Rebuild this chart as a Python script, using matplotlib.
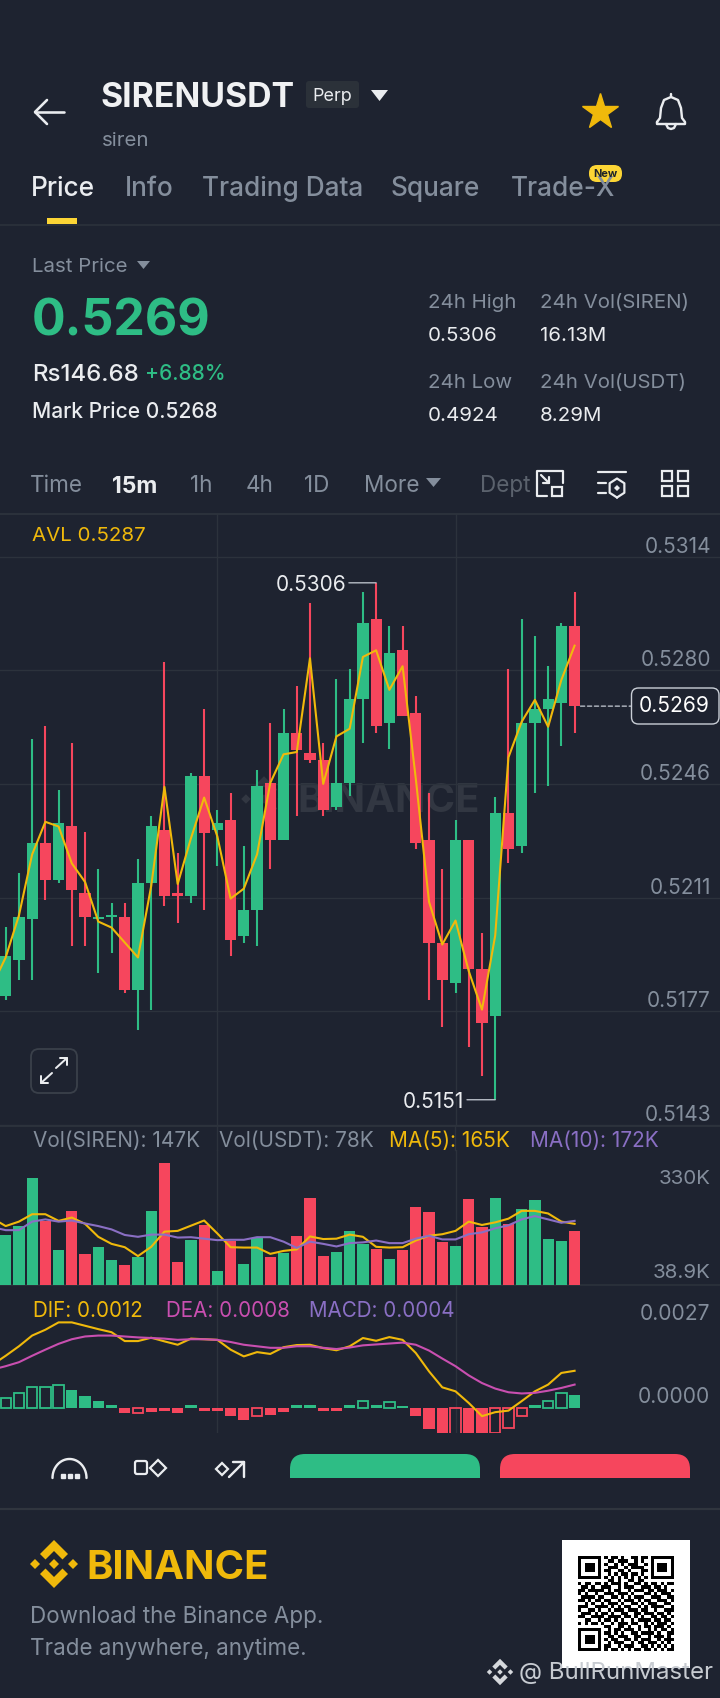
import numpy as np
import matplotlib
matplotlib.use("Agg")
import matplotlib.pyplot as plt
from matplotlib.patches import FancyBboxPatch, Polygon, Rectangle

# candles, oldest first
opens = [.51818, .51927, .52049, .52279, .52168, .52329, .52128, .52049, .52057, .52057, .51837,
         .52159, .52318, .52128, .52118, .52479, .52318, .52349, .51998, .52077, .52459, .52288,
         .52609, .52549, .52529, .52388, .52459, .52710, .52951, .52640, .52860, .52670, .52288,
         .51977, .51857, .52288, .51898, .51757, .52368, .52268, .52640, .52680, .52699, .52932]
closes = [.51937, .52057, .52279, .52168, .52337, .52137, .52057, .52057, .52062, .51837, .52159,
          .52329, .52118, .52118, .52479, .52309, .52338, .51988, .52077, .52449, .52288, .52609,
          .52559, .52529, .52379, .52459, .52710, .52941, .52630, .52851, .52660, .52279, .51977,
          .51867, .52288, .51898, .51737, .52368, .52259, .52640, .52680, .52710, .52932, .52690]
highs = [.52027, .52188, .52590, .52630, .52439, .52580, .52310, .52199, .52099, .52099, .52229,
         .52359, .52822, .52249, .52490, .52680, .52379, .52429, .52268, .52499, .52640, .52680,
         .52751, .53001, .52580, .52771, .52801, .53032, .53061, .52932, .52932, .52721, .52429,
         .52199, .52349, .52288, .52008, .52418, .52803, .52951, .52900, .52810, .52941, .53032]
lows = [.51807, .51867, .51867, .52107, .52159, .51967, .51967, .51887, .51946, .51827, .51716,
        .51776, .52089, .52037, .52098, .52077, .52209, .51937, .51977, .51967, .52199, .52288,
        .52359, .52518, .52359, .52379, .52419, .52579, .52609, .52560, .52660, .52259, .51806,
        .51726, .51827, .51665, .51576, .51506, .52218, .52249, .52429, .52449, .52570, .52609]
# lines start one candle before the left edge
avl = [.51851, .51934, .52060, .52244, .52342, .52328, .52217, .52161, .52042, .52024, .51979,
       .51934, .52149, .52447, .52155, .52292, .52415, .52298, .52111, .52141, .52244, .52459,
       .52545, .52552, .52834, .52456, .52599, .52622, .52838, .52858, .52739, .52810, .52471,
       .52101, .51973, .52045, .51893, .51777, .52000, .52536, .52643, .52709, .52628, .52769, .52872]
price_ticks = [.53140, .52798, .52456, .52114, .51772, .51430]
price_labels = ["0.5314", "0.5280", "0.5246", "0.5211", "0.5177", "0.5143"]

volume = [135, 159, 290, 173, 95, 199, 84, 102, 68, 53, 76, 199, 330, 63, 121, 162, 38.9, 120, 56,
          126, 76, 87, 131, 236, 79, 88, 146, 111, 96, 69, 94, 211, 197, 117, 104, 233, 157, 236,
          165, 204, 229, 123, 119, 147]
ma5 = [180, 159, 171, 191, 191, 173, 182, 165, 130, 111, 102, 78, 103, 144, 146, 160, 174, 139, 102,
       101, 101, 84, 92, 96, 131, 124, 125, 136, 130, 103, 101, 102, 120, 133, 137, 146, 171, 162,
       169, 179, 200, 200, 193, 171, 165]
ma10 = [156, 148, 148, 171, 177, 171, 174, 166, 159, 150, 135, 130, 136, 136, 128, 129, 125, 121,
        122, 122, 129, 129, 117, 100, 117, 111, 104, 113, 115, 120, 113, 113, 125, 133, 123, 123,
        137, 142, 153, 161, 177, 186, 177, 168, 173]

dif = [.00142, .00171, .00202, .00237, .00256, .00280, .00280, .00269, .00258, .00248, .00219, .00219,
       .00230, .00218, .00207, .00227, .00225, .00223, .00191, .00169, .00183, .00177, .00199, .00206,
       .00207, .00196, .00189, .00202, .00229, .00220, .00232, .00223, .00180, .00120, .00068, .00055,
       .00017, -.00026, -.00013, -.00008, .00023, .00055, .00077, .00115, .00122]
dea = [.00126, .00137, .00150, .00171, .00191, .00210, .00225, .00234, .00237, .00237, .00234, .00231,
       .00229, .00227, .00223, .00225, .00225, .00223, .00216, .00207, .00202, .00197, .00197, .00202,
       .00202, .00197, .00193, .00198, .00205, .00208, .00211, .00214, .00207, .00188, .00162, .00137,
       .00107, .00082, .00064, .00052, .00048, .00050, .00057, .00066, .00077]
macd = [.00034, .00050, .00070, .00070, .00076, .00060, .00040, .00023, .00010, -.00015, -.00015,
        -.00012, -.00010, -.00016, .00009, -.00009, -.00009, -.00027, -.00038, -.00024, -.00022, -.00011,
        .00009, .00009, -.00008, -.00009, .00009, .00025, .00012, .00020, .00007, -.00026, -.00068,
        -.00085, -.00090, -.00085, -.00085, -.00080, -.00064, -.00025, .00009, .00023, .00049, .00043]
macd_hollow = [1, 1, 1, 1, 1, 0, 0, 0, 0, 0, 1, 0, 0, 0, 0, 0, 0, 0, 0, 1, 0, 0, 0, 0, 0, 0, 0, 1, 0, 1,
               0, 0, 0, 0, 1, 0, 0, 1, 1, 1, 0, 1, 1, 0]

qr_rows = [
    "11111110101101001101101111111",
    "10000010011011100101001000001",
    "10111010100101011100101011101",
    "10111010011100101111001011101",
    "10111010110011010001101011101",
    "10000010010101101101001000001",
    "11111110101010101010101111111",
    "00000000011010011011000000000",
    "10110110101110100110101101011",
    "01101001110010111001110110100",
    "11011111010110010111011011101",
    "10100100111011101000110101110",
    "01111011001101010111001110011",
    "11010110110010111010110011101",
    "00101001011101001101011100110",
    "11100111101010110010101111001",
    "10011010010111011101100100111",
    "01110101101001100110111011010",
    "11001111011110110101001101101",
    "00110010110101001011110110110",
    "10101101001011101100101011101",
    "00000000110011010010110111010",
    "11111110010110111010010101101",
    "10000010110101001101111010011",
    "10111010011011100110010111010",
    "10111010101100110101110010111",
    "10111010010111001011011101010",
    "10000010110010111001101010101",
    "11111110101101010110110101011",
]

BG = "#1e2330"
GREEN = "#2ebd85"
RED = "#f6465d"
YELLOW = "#f0b90b"
PURPLE = "#8a6fc4"
PINK = "#c94fb0"
GRAY = "#848e9c"
GRID = "#2c323c"
WHITE = "#eaecef"

plt.rcParams["font.family"] = ["Inter", "DejaVu Sans"]
W, H = 720, 1698
fig = plt.figure(figsize=(W / 100, H / 100), dpi=100, facecolor=BG)


def panel(top, bottom, zorder):
    a = fig.add_axes([0, 1 - bottom / H, 1, (bottom - top) / H], zorder=zorder)
    a.patch.set_alpha(0)
    a.set_axis_off()
    a.set_xlim(-0.4286, 53.99)
    return a


def logo(a, cx, cy, s, color, zorder=1):
    top = [(0, -24), (14, -10), (8.5, -4.5), (0, -13), (-8.5, -4.5), (-14, -10)]
    for pts in (top, [(x, -y) for x, y in top]):
        a.add_patch(Polygon([(cx + x * s, cy + y * s) for x, y in pts], color=color, lw=0, zorder=zorder))
    for dx in (-19, 0, 19):
        pts = [(dx, -5), (dx + 5, 0), (dx, 5), (dx - 5, 0)]
        a.add_patch(Polygon([(cx + x * s, cy + y * s) for x, y in pts], color=color, lw=0, zorder=zorder))


def txt(a, x, y, s, px, color=WHITE, weight="normal", ha="left", **kw):
    # va=center sits a little high for this font, scale the nudge with the size
    return a.text(x, y + 0.11 * px, s, fontsize=px * 0.72, color=color, fontweight=weight, ha=ha, va="center", **kw)


def stroke(a, xs, ys, color=WHITE, lw=2.0, **kw):
    a.plot(xs, ys, color=color, lw=lw * 0.72, solid_capstyle="round", solid_joinstyle="round", **kw)


# pixel layer under the charts
bg = fig.add_axes([0, 0, 1, 1], zorder=0)
bg.set_xlim(0, W)
bg.set_ylim(H, 0)
bg.set_axis_off()
logo(bg, 264, 799, 0.95, "#323742")
txt(bg, 297, 797, "BINANCE", 40, "#323742", "bold")

# price panel
ax = panel(514, 1126, 2)
ax.set_ylim(.51427, .53268)
x = np.arange(len(closes))
line_x = np.arange(-1, len(closes))
o, c, h_, l_ = map(np.array, (opens, closes, highs, lows))
colors = [GREEN if b >= a else RED for a, b in zip(o, c)]
for p in price_ticks:
    ax.axhline(p, color=GRID, lw=1, zorder=1)
ax.axhline(.53268, color=GRID, lw=1.4, zorder=1, clip_on=False)
ax.axhline(.51427, color=GRID, lw=1.4, zorder=1, clip_on=False)
ax.vlines(x, l_, h_, colors=colors, lw=1.5, zorder=2)
ax.bar(x, np.abs(c - o), bottom=np.minimum(o, c), width=0.85, color=colors, zorder=3)
ax.plot(line_x, avl, color=YELLOW, lw=1.5, zorder=4, solid_joinstyle="round")
for p, lab in zip(price_ticks, price_labels):
    ax.annotate(lab, xy=(1, p), xycoords=ax.get_yaxis_transform(), xytext=(-9, 10),
                textcoords="offset pixels", ha="right", va="center", fontsize=15, color=GRAY)
hi_i = int(np.argmax(highs))
lo_i = int(np.argmin(lows))
ax.annotate("0.5306", xy=(hi_i, highs[hi_i]), xytext=(-30, -2), textcoords="offset pixels", ha="right",
            va="center", fontsize=15, color=WHITE, arrowprops=dict(arrowstyle="-", color="#b7bdc6", lw=1, shrinkA=0, shrinkB=0, relpos=(1, 0.6)))
ax.annotate("0.5151", xy=(lo_i, lows[lo_i]), xytext=(-31, -2), textcoords="offset pixels", ha="right",
            va="center", fontsize=15, color=WHITE, arrowprops=dict(arrowstyle="-", color="#b7bdc6", lw=1, shrinkA=0, shrinkB=0, relpos=(1, 0.6)))
ax.annotate("", xy=(52.1, closes[-1]), xytext=(43.45, closes[-1]),
            arrowprops=dict(arrowstyle="-", color="#b7bdc6", lw=1, ls=(0, (3, 2)), shrinkA=0, shrinkB=0))

# volume panel
vol_ax = panel(1150, 1285, 2)
vol_ax.set_ylim(0, 330 * (135 / 122.3))
vol_ax.bar(x, volume, width=0.85, color=colors, zorder=3)
vol_ax.plot(line_x, ma5, color=YELLOW, lw=1.5, zorder=4)
vol_ax.plot(line_x, ma10, color=PURPLE, lw=1.5, zorder=5)

# macd panel
macd_ax = panel(1285, 1433, 2)
macd_ax.set_ylim(-.00081, .00402)
for i, v in enumerate(macd):
    col = GREEN if v >= 0 else RED
    if macd_hollow[i]:
        macd_ax.bar(i, v, width=0.78, facecolor="none", edgecolor=col, lw=1.3, zorder=3)
    else:
        macd_ax.bar(i, v, width=0.85, color=col, zorder=3)
macd_ax.plot(line_x, dif, color=YELLOW, lw=1.5, zorder=4)
macd_ax.plot(line_x, dea, color=PINK, lw=1.5, zorder=5)

# vertical time grid runs through all three panels
for i in (16, 34):
    for a in (ax, vol_ax, macd_ax):
        a.axvline(i, color=GRID, lw=1, zorder=1)
    px = 5.67 + 13.23 * i
    bg.plot([px, px], [1126, 1150], color=GRID, lw=1)

# pixel layer over the charts
ui = fig.add_axes([0, 0, 1, 1], zorder=5)
ui.patch.set_alpha(0)
ui.set_xlim(0, W)
ui.set_ylim(H, 0)
ui.set_axis_off()

# header
stroke(ui, [35, 64], [112, 112], lw=2.6)
stroke(ui, [47, 35, 47], [100, 112, 124], lw=2.6)
txt(ui, 101, 94, "SIRENUSDT", 33.8, "#f0f1f3", "bold")
ui.add_patch(FancyBboxPatch((306, 81), 53, 27, boxstyle="round,pad=0,rounding_size=3", fc="#2b3139", ec="none"))
txt(ui, 332, 95, "Perp", 18, WHITE, ha="center")
ui.add_patch(Polygon([(371, 90), (388, 90), (379.5, 101)], color=WHITE, lw=0))
txt(ui, 102, 139, "siren", 20.5, GRAY)
ui.plot([600], [112], marker="*", ms=27, color=YELLOW, mec=YELLOW)
bell_x = np.array([655, 658, 659, 662, 669, 676, 679, 680, 683, 683, 655, 655]) + 2
bell_y = [122, 118, 108, 100, 97, 100, 108, 118, 122, 124, 124, 122]
stroke(ui, bell_x, bell_y, lw=2.4)
stroke(ui, [666, 668, 671, 674, 676], [124, 128, 129, 128, 124], lw=2.4)
stroke(ui, [671, 671], [94, 97], lw=2.4)

# tabs
for tx, label in zip([125, 202, 391, 511], ["Info", "Trading Data", "Square", "Trade-X"]):
    txt(ui, tx, 186, label, 26.2, GRAY, "medium")
txt(ui, 31, 186, "Price", 26.2, WHITE, "medium")
ui.add_patch(Rectangle((47, 218), 30, 6, color="#fcd535", lw=0))
bg.plot([0, W], [225, 225], color=GRID, lw=1.2)
ui.add_patch(FancyBboxPatch((589, 165), 33, 17, boxstyle="round,pad=0,rounding_size=8", fc="#fcd535", ec="none"))
txt(ui, 605.5, 173, "New", 11, "#1e2329", "bold", ha="center")

# last price block
txt(ui, 32, 265, "Last Price", 20.5, GRAY)
ui.add_patch(Polygon([(137, 261), (150, 261), (143.5, 269)], color=GRAY, lw=0))
txt(ui, 32, 316, "0.5269", 50, GREEN, "bold")
txt(ui, 32, 372, "Rs146.68", 24, WHITE, "medium")
txt(ui, 145, 372, "+6.88%", 21, GREEN, "medium")
txt(ui, 32, 410, "Mark Price 0.5268", 21, WHITE, "medium")
for sx, sy, name, val in [(428, 301, "24h High", "0.5306"), (540, 301, "24h Vol(SIREN)", "16.13M"),
                          (428, 381, "24h Low", "0.4924"), (540, 381, "24h Vol(USDT)", "8.29M")]:
    txt(ui, sx, sy, name, 20.5, GRAY)
    txt(ui, sx, sy + 33, val, 20.5, WHITE)

# interval row
for tx, label in zip([30, 190, 246, 304, 364], ["Time", "1h", "4h", "1D", "More"]):
    txt(ui, tx, 484, label, 22.5, GRAY)
txt(ui, 112, 484, "15m", 23, WHITE, "bold")
ui.add_patch(Polygon([(426, 478), (441, 478), (433.5, 487)], color=GRAY, lw=0))
txt(ui, 480, 484, "Dept", 22.5, "#5b626d")
stroke(ui, [563, 563, 537, 537, 547], [483, 471, 471, 496, 496], lw=2.2)
ui.add_patch(Rectangle((552, 487), 10, 9, fc="none", ec=WHITE, lw=1.6))
stroke(ui, [541, 549], [475, 483], lw=2.2)
stroke(ui, [549, 549, 543], [477, 483, 483], lw=2.2)
stroke(ui, [598, 626], [472, 472], lw=2.2)
stroke(ui, [598, 606], [483, 483], lw=2.2)
stroke(ui, [598, 606], [493, 493], lw=2.2)
hx = 617 + 8.5 * np.sin(np.linspace(0, 2 * np.pi, 7))
hy = 488 + 9.5 * np.cos(np.linspace(0, 2 * np.pi, 7))
stroke(ui, hx, hy, lw=2.2)
ui.add_patch(Polygon([(617, 485), (620, 488), (617, 491), (614, 488)], color=WHITE, lw=0))
for sx in (662, 678):
    for sy in (471, 486):
        ui.add_patch(Rectangle((sx, sy), 10, 10, fc="none", ec=WHITE, lw=1.6))

# chart overlays
txt(ui, 32, 534, "AVL 0.5287", 20.5, YELLOW)
ui.add_patch(FancyBboxPatch((631.5, 688), 87.5, 36, boxstyle="round,pad=0,rounding_size=7", fc=BG, ec="#c9ced6", lw=1))
txt(ui, 710, 704, "0.5269", 21, "#ffffff", ha="right")
ui.add_patch(FancyBboxPatch((31, 1049), 46, 44, boxstyle="round,pad=0,rounding_size=8", fc="none", ec="#3a404a", lw=1.3))
stroke(ui, [56, 67], [1068, 1058])
stroke(ui, [60, 67, 67], [1058, 1058, 1065])
stroke(ui, [41, 52], [1083, 1073])
stroke(ui, [41, 41, 48], [1076, 1083, 1083])

# indicator legends
for tx, tc, label in [(32.7, GRAY, "Vol(SIREN): 147K"), (219, GRAY, "Vol(USDT): 78K"),
                      (389, YELLOW, "MA(5): 165K"), (530, PURPLE, "MA(10): 172K")]:
    txt(ui, tx, 1139, label, 20.8, tc)
txt(ui, 711, 1177, "330K", 20.5, GRAY, ha="right")
txt(ui, 711, 1271, "38.9K", 20.5, GRAY, ha="right")
bg.plot([0, W], [1285, 1285], color=GRID, lw=1.2)
for tx, tc, label in [(32.7, YELLOW, "DIF: 0.0012"), (166, PINK, "DEA: 0.0008"), (309, PURPLE, "MACD: 0.0004")]:
    txt(ui, tx, 1309, label, 20.6, tc)
txt(ui, 710, 1312, "0.0027", 21, GRAY, ha="right")
txt(ui, 710, 1395, "0.0000", 21, GRAY, ha="right")

# bottom bar
ui.add_patch(FancyBboxPatch((290, 1454), 190, 50, boxstyle="round,pad=0,rounding_size=15", fc=GREEN, ec="none"))
ui.add_patch(FancyBboxPatch((500, 1454), 190, 50, boxstyle="round,pad=0,rounding_size=15", fc=RED, ec="none"))
ui.add_patch(Rectangle((0, 1478), W, 40, color=BG, lw=0, zorder=2))
ui.plot([0, W], [1509, 1509], color="#30353e", lw=1.6, zorder=3)
t = np.linspace(np.pi, 2 * np.pi, 40)
stroke(ui, 69.5 + 17 * np.cos(t), 1478 + 19 * np.sin(t), lw=2.4)
ui.plot([63, 70, 77], [1476, 1476, 1476], ls="none", marker="s", ms=2.4, color=WHITE)
ui.add_patch(FancyBboxPatch((135, 1461), 12, 13, boxstyle="round,pad=0,rounding_size=2", fc="none", ec=WHITE, lw=1.6))
ui.add_patch(Polygon([(158, 1460), (166, 1468), (158, 1476), (150, 1468)], fc="none", ec=WHITE, lw=1.6))
ui.add_patch(Polygon([(222, 1463), (228, 1469), (222, 1475), (216, 1469)], fc="none", ec=WHITE, lw=1.6))
stroke(ui, [229, 244], [1477, 1462], lw=2.4)
stroke(ui, [233, 244, 244], [1462, 1462, 1477], lw=2.4)

# footer
logo(ui, 54, 1564, 1.0, YELLOW, zorder=3)
txt(ui, 86, 1564, "BINANCE", 40, YELLOW, "bold", zorder=3)
txt(ui, 30, 1614, "Download the Binance App.", 22.4, GRAY, zorder=3)
txt(ui, 30, 1646, "Trade anywhere, anytime.", 22.4, GRAY, zorder=3)
ui.add_patch(Rectangle((562, 1540), 128, 128, color="white", lw=0, zorder=3))
qr = np.array([[1 - int(ch) for ch in row.ljust(29, "0")[:29]] for row in qr_rows])
ui.imshow(qr, cmap="gray", vmin=0, vmax=1, extent=(577.5, 673.5, 1651, 1556), aspect="auto",
          interpolation="nearest", zorder=4)
ui.set_xlim(0, W)
ui.set_ylim(H, 0)
logo(ui, 500, 1672, 0.55, "#d5d8dc", zorder=5)
txt(ui, 519, 1670, "@ BullRunMaster", 24, "#c7cbd1", zorder=5)

fig.savefig("out.png", dpi=100, facecolor=BG)
